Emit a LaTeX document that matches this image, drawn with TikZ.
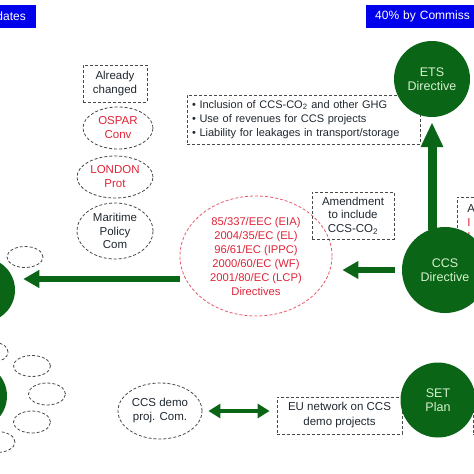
\documentclass[tikz,border=0pt]{standalone}
\usepackage{fontspec}
\setmainfont{Liberation Sans}
\usepackage{tikz}
\usetikzlibrary{arrows.meta,shapes.geometric}

\definecolor{ccsgreen}{RGB}{10,102,22}
\definecolor{ccstext}{RGB}{214,240,208}
\definecolor{dirred}{RGB}{222,36,56}
\definecolor{boxblue}{RGB}{0,0,236}
\definecolor{dashgray}{RGB}{72,72,72}
\definecolor{inktext}{RGB}{32,40,48}

\begin{document}
\begin{tikzpicture}[
			x=1pt, y=-1pt,
			font=\fontsize{11.5}{14}\selectfont,
			green disc/.style={
				circle,
				fill=ccsgreen,
				inner sep=0pt,
				align=center,
				text=ccstext,
				font=\fontsize{12.5}{14.5}\selectfont
			},
			dash box/.style={
				draw=dashgray,
				densely dashed,
				line width=0.8pt,
				inner sep=0pt,
				align=center,
				text=inktext
			},
			dash oval/.style={
				ellipse,
				draw=dashgray,
				densely dashed,
				line width=0.8pt,
				inner sep=0pt,
				align=center,
				text=inktext
			},
			blue tag/.style={
				fill=boxblue,
				text=white,
				minimum height=23pt,
				font=\fontsize{12}{14}\selectfont
			},
			fat arrow/.style={
				draw=ccsgreen,
				line width=6pt,
				-{Triangle[length=16pt,width=17pt]}
			},
			tall arrow/.style={
				draw=ccsgreen,
				line width=9pt,
				-{Triangle[length=25pt,width=21pt]}
			},
			twin arrow/.style={
				draw=ccsgreen,
				line width=4pt,
				{Triangle[length=12pt,width=14pt]}-{Triangle[length=12pt,width=14pt]}
			}
			]
			
			\useasboundingbox (0,0) rectangle (474,474);
			\clip (0,0) rectangle (474,474);
			
			\node[blue tag, anchor=east, inner xsep=10pt] (upd) at (36,16.5) {dates};
			\node[blue tag, anchor=west, inner xsep=9pt, minimum width=130pt, align=left, text width=112pt] (com) at (366,16.5) {40\% by Commiss};
			
			\node[dash box, minimum width=233pt, minimum height=49pt, align=left, text width=223pt,
				font=\fontsize{11}{14}\selectfont] (ghg) at (303.5,119.5)
			{\textbullet\ Inclusion of CCS-CO\textsubscript{2} and other GHG\\
			 \textbullet\ Use of revenues for CCS projects\\
			 \textbullet\ Liability for leakages in transport/storage};
			
			\node[dash box, minimum width=64pt, minimum height=37pt] (chg) at (115,83.5) {Already\\changed};
			\node[dash oval, minimum width=70pt, minimum height=42pt, text=dirred] (ospar) at (118,128) {OSPAR\\Conv};
			\node[dash oval, minimum width=76pt, minimum height=42pt, text=dirred] (london) at (115,177) {LONDON\\Prot};
			\node[dash oval, minimum width=76pt, minimum height=56pt, font=\fontsize{11.5}{13.5}\selectfont] (mari) at (115,231) {Maritime\\Policy\\Com};
			\node[dash oval, minimum width=36pt, minimum height=21pt] (blank) at (25,257) {};
			
			\node[dash oval, draw=dirred!75, minimum width=152pt, minimum height=120pt, text=dirred,
				font=\fontsize{11.2}{14}\selectfont] (dirs) at (256,256)
			{85/337/EEC (EIA)\\2004/35/EC (EL)\\96/61/EC (IPPC)\\2000/60/EC (WF)\\2001/80/EC (LCP)\\Directives};
			
			\node[dash box, minimum width=82pt, minimum height=47pt, font=\fontsize{11.5}{13.5}\selectfont] (amend) at (353,215.5) {Amendment\\to include\\CCS-CO\textsubscript{2}};
			\node[dash box, anchor=north west, minimum width=40pt, minimum height=51pt, align=left, text width=28pt, inner xsep=10pt, inner ysep=5pt] (abox) at (457,197)
			{A\\\textcolor{dirred}{I}\\\textcolor{dirred}{I}};
			
			\node[dash oval, minimum width=84pt, minimum height=56pt] (demo) at (160,411) {CCS demo\\proj. Com.};
			\node[dash box, minimum width=125pt, minimum height=37pt, font=\fontsize{11.5}{15}\selectfont] (eunet) at (339.5,415.5) {EU network on CCS\\demo projects};
			\node[dash box, anchor=north west, minimum width=30pt, minimum height=42pt] (sbox) at (473,392) {};
			
			\node[dash oval, minimum width=26pt, minimum height=19pt] (e1) at (-5,352) {};
			\node[dash oval, minimum width=37pt, minimum height=21pt] (e2) at (32,366) {};
			\node[dash oval, minimum width=37pt, minimum height=22pt] (e3) at (47,394) {};
			\node[dash oval, minimum width=37pt, minimum height=22pt] (e4) at (32,422) {};
			\node[dash oval, minimum width=36pt, minimum height=21pt] (e5) at (-3,442) {};
			
			\node[green disc, minimum size=76pt] (ets) at (432,79) {ETS\\Directive};
			\node[green disc, minimum size=86pt] (ccs) at (445,270) {CCS\\Directive};
			\node[green disc, minimum size=75pt] (setplan) at (438,400) {SET\\Plan};
			\node[green disc, minimum size=64pt] (lcirc) at (-17,290) {};
			\node[green disc, minimum size=66pt] (lcirc2) at (-26,396) {};
			
			\draw[tall arrow, shorten <=-3pt, shorten >=5pt] (ets.south |- ccs.north) -- (ets.south);
			\draw[fat arrow, shorten <=7pt, shorten >=10pt] (ccs.west) -- (ccs.west -| dirs.east);
			\draw[fat arrow, shorten >=10pt] (dirs.west |- lcirc.20) -- (lcirc.20);
			\draw[twin arrow, shorten <=6pt, shorten >=7pt] (demo.east) -- (demo.east -| eunet.west);
			
		\end{tikzpicture}
\end{document}
